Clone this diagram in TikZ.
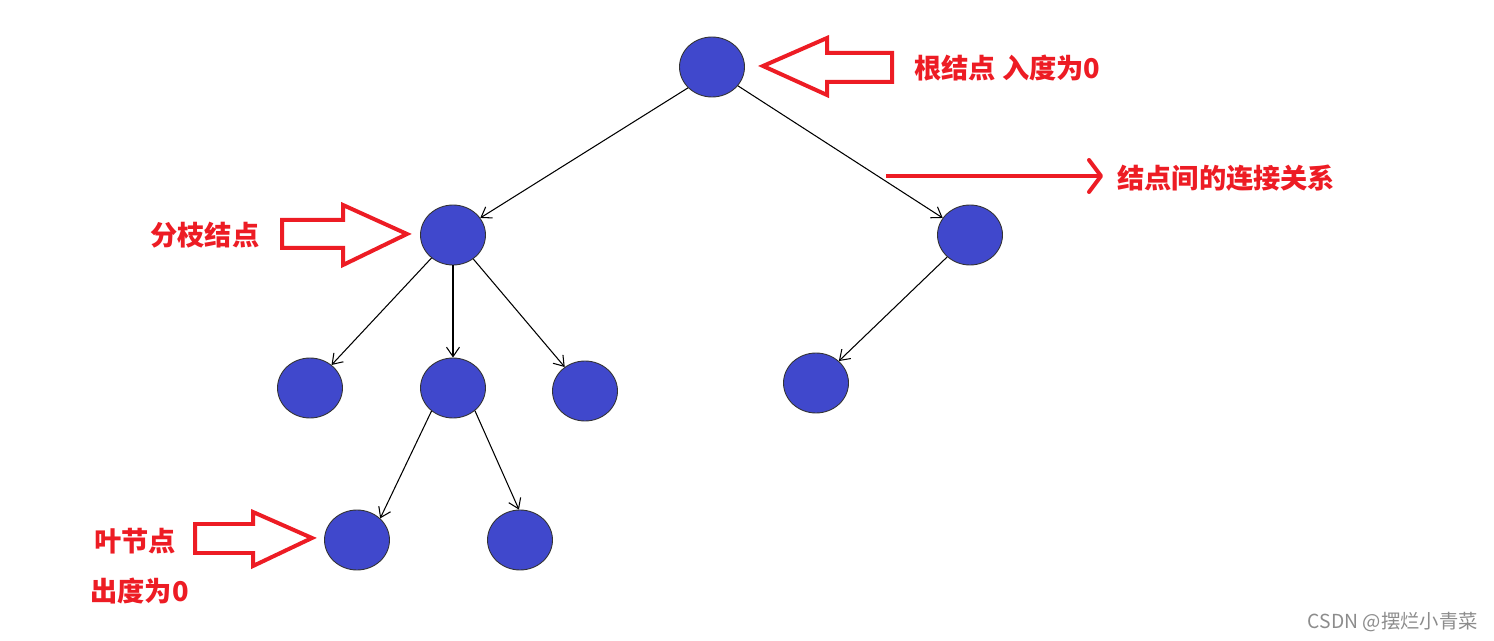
\documentclass[tikz,border=0pt]{standalone}
\usepackage{fontspec}
\newfontfamily\cjk{Noto Sans CJK SC}
\usetikzlibrary{shapes.geometric,arrows.meta}
\definecolor{nodeblue}{RGB}{64,72,204}
\definecolor{markred}{RGB}{237,28,36}
\begin{document}
\begin{tikzpicture}[x=0.02cm,y=-0.02cm,
	treenode/.style={ellipse,draw=black!80,line width=0.5pt,fill=nodeblue,minimum width=1.3cm,minimum height=1.2cm,inner sep=0pt},
	edge/.style={-{Straight Barb[length=0.19cm,width=0.26cm]},black,line width=0.6pt},
	marker/.style={draw=markred,line width=0.08cm,fill=white,line join=miter},
	markline/.style={draw=markred,line width=0.08cm,-{Straight Barb[round,length=0.24cm,width=0.64cm]}},
	note/.style={text=markred,font=\cjk\bfseries\fontsize{15.5}{18}\selectfont,anchor=west,inner sep=0pt}]
	\useasboundingbox (0,0) rectangle (1494,641);
	% --- Tree nodes ---
	\node[treenode] (root) at (712,67) {};
	\node[treenode] (left) at (453,235) {};
	\node[treenode] (right) at (970,235) {};
	\node[treenode] (lla) at (310,388) {};
	\node[treenode] (llb) at (453,388) {};
	\node[treenode] (llc) at (585,391) {};
	\node[treenode] (rl) at (816,383) {};
	\node[treenode] (leafa) at (357,540) {};
	\node[treenode] (leafb) at (520,540) {};
	% --- Edges ---
	\draw[edge] (root.221) -- (left.32);
	\draw[edge] (root.-36) -- (right.148);
	\draw[edge] (left) -- (lla);
	\draw[edge] (left) -- (llb);
	\draw[edge] (left) -- (llc);
	\draw[edge] (right) -- (rl);
	\draw[edge] (llb.227) -- (leafa.43);
	\draw[edge] (llb.314) -- (leafb.92);
	% --- Labels ---
	\node[note] (rootnote) at (914,68) {根结点 入度为0};
	\node[note] (linknote) at (1117,178) {结点间的连接关系};
	\node[note] (branchnote) at (150,235) {分枝结点};
	\node[note] (leafnote) at (94,541) {叶节点};
	\node[note] (degnote) at (90,591) {出度为0};
	% --- Block arrows (pointers) ---
	\draw[marker] (763,66) -- (827,38) -- (827,53) -- (892,53) -- (892,82) -- (827,82) -- (827,95) -- cycle;
	\draw[marker] (282,220) -- (343,220) -- (343,205) -- (407,234) -- (343,265) -- (343,248) -- (282,248) -- cycle;
	\draw[marker] (195,524) -- (253,524) -- (253,512) -- (312,538) -- (253,566) -- (253,553) -- (195,553) -- cycle;
	% --- Link arrow ---
	\coordinate (linkstart) at (886,176);
	\draw[markline,shorten >=0.28cm] (linkstart) -- (linkstart -| linknote.west);
	% watermark
	\node[anchor=east,text=black!45,inner sep=0pt,font=\cjk\fontsize{11}{13}\selectfont] (mark) at (1478,622) {CSDN @摆烂小青菜};
\end{tikzpicture}
\end{document}
